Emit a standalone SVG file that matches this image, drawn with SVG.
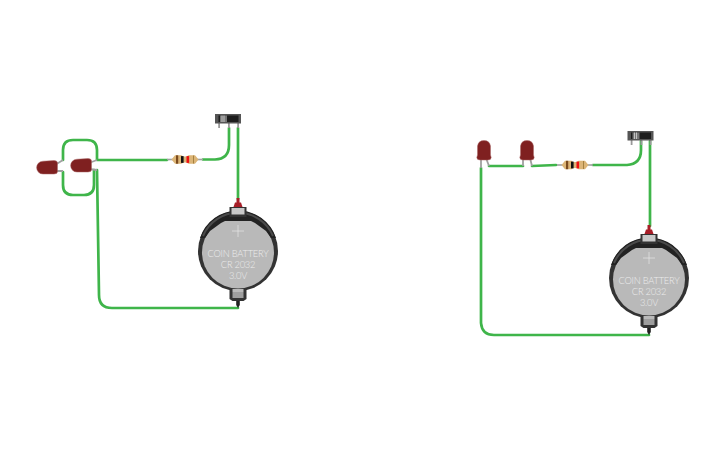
<svg xmlns="http://www.w3.org/2000/svg" width="725" height="453" viewBox="0 0 725 453">
<style>
.w{fill:none;stroke:#3fb54a;stroke-width:2.7;stroke-linecap:round;stroke-linejoin:round}
.l{fill:none;stroke:#a0a0a0;stroke-width:1.8}
.t{font-family:Lato,"Liberation Sans",sans-serif;font-weight:300;font-size:9.3px;letter-spacing:-.25px;fill:#ececec;text-anchor:middle}
.led{fill:#7f2020;stroke:#a66;stroke-width:.5}
</style>
<defs>
<g id="bat">
<rect x="-1.500" y="-52" width="3" height="6" fill="#a81e28"/>
<path d="M-3-47.500h6l2 6h-10z" fill="#a81e28"/>
<path d="M-1.800 49h3.600v6l-1.800 3l-1.800-3z" fill="#222"/>
<circle cy="1" r="40" fill="#333"/>
<path d="M-8.500 38h17v11l-3 2h-11l-3-2z" fill="#333"/>
<circle cy="2.500" r="36" fill="#b9b9b9"/>
<path d="M-33-12L-28-19L-17-27L-13-29H13L17-27L28-19L33-12L38-12A40 40 0 0 0-38-12z" fill="#222"/>
<path d="M-35-14A38 38 0 0 1 35-14" fill="none" stroke="#4a4a4a" stroke-width="2"/>
<rect x="-8.500" y="-43" width="17" height="10" fill="#333"/>
<rect x="-6.500" y="-42" width="13" height="6.500" fill="#c8c8c8"/>
<rect x="-5.500" y="39" width="11" height="3" fill="#b9b9b9"/>
<rect x="-5.500" y="42" width="11" height="6" fill="#9e9e9e"/>
<path d="M-6-19H6M0-25V-13" stroke="#e6e6e6" stroke-width=".7" fill="none"/>
</g>
<g id="res">
<rect x="-18" y="-.8" width="36" height="1.600" fill="#a0a0a0"/>
<path d="M-13.500 0l3.500-4.200h6.500l2 1.200h3l2-1.200h6.500l3.500 4.200l-3.500 4.200h-6.500l-2-1.200h-3l-2 1.200h-6.500z" fill="#dcb577"/>
<rect x="-9" y="-4.200" width="2.200" height="8.400" fill="#7a4a1e"/>
<rect x="-4" y="-3.400" width="2.600" height="6.800" fill="#111"/>
<rect x="1.500" y="-3.400" width="2.600" height="6.800" fill="#ee1111"/>
<rect x="8" y="-4" width="1" height="8" fill="#a58140"/>
</g>
<g id="sw">
<rect x="-1.800" y="9" width="1.800" height="5" fill="#999"/>
<rect x="8" y="9" width="1.800" height="5" fill="#999"/>
<rect x="17.200" y="9" width="1.800" height="5" fill="#999"/>
<rect x="-5" y="0" width="26" height="9.500" fill="#555"/>
<rect x="-1.500" y="1.500" width="20" height="6.500" fill="#1d1d1d"/>
<rect x="0" y="1.500" width="7" height="6.500" fill="#777"/>
<path d="M2 1.500v6.500M4 1.500v6.500" stroke="#ccc" stroke-width=".9"/>
</g>
</defs>
<rect width="725" height="453" fill="#fff"/>
<g id="connectors">
<path class="w" d="M63 160V150Q63 140 73 140H87Q97 140 97 150V160H167"/>
<path class="w" d="M63 172V185Q63 195 73 195H84Q94 195 94 185V170"/>
<path class="w" d="M97 170L99 295Q99 308 112 308H238"/>
<path class="w" d="M203 159.500H215Q229 159 229 145V128"/>
<path class="w" d="M238 128V199"/>
<path class="w" d="M481 168V323Q482 335 494 335H649"/>
<path class="w" d="M489 166H523"/>
<path class="w" d="M532 166L556 165"/>
<path class="w" d="M593 165H627Q641 164 641 150V141"/>
<path class="w" d="M650 141V226"/>
</g>
<g id="led1">
<path class="l" d="M55 165L63 160M55 171H63"/>
<path class="led" d="M43 161.200L54 160.500Q57.500 160.500 57.500 163V171.500Q57.500 174 54 174H43A6.400 6.400 0 0 1 43 161.200z"/>
</g>
<g id="led2">
<path class="l" d="M89 163L97 160M89 169L97 170"/>
<path class="led" d="M77 159.200L88 158.500Q91.500 158.500 91.500 161V169.500Q91.500 172 88 172H77A6.400 6.400 0 0 1 77 159.200z"/>
</g>
<g id="res1"><use href="#res" x="185" y="159.500"/></g>
<g id="switch1"><use href="#sw" x="220" y="114"/></g>
<g id="battery1"><use href="#bat" x="238" y="250"/>
<text class="t" x="238" y="256.500">COIN BATTERY</text><text class="t" x="238" y="267.800">CR 2032</text><text class="t" x="238" y="279.100">3.0V</text></g>
<g id="led3">
<path class="l" d="M481 158V168M486 158L489 166"/>
<path class="led" d="M477.500 146A6.600 6.600 0 0 1 490.500 146V155L491.200 157.500Q491 160 488 160H480Q477 160 476.800 157.500L477.500 155z"/>
</g>
<g id="led4">
<path class="l" d="M523 158V166M530 158L532 166"/>
<path class="led" d="M520.500 146A6.600 6.600 0 0 1 533.500 146V155L534.200 157.500Q534 160 531 160H523Q520 160 519.800 157.500L520.500 155z"/>
</g>
<g id="res2"><use href="#res" x="575" y="165"/></g>
<g id="switch2"><use href="#sw" x="632.500" y="131"/></g>
<g id="battery2"><use href="#bat" x="649" y="277"/>
<text class="t" x="649" y="283.500">COIN BATTERY</text><text class="t" x="649" y="294.800">CR 2032</text><text class="t" x="649" y="306.100">3.0V</text></g>
</svg>
